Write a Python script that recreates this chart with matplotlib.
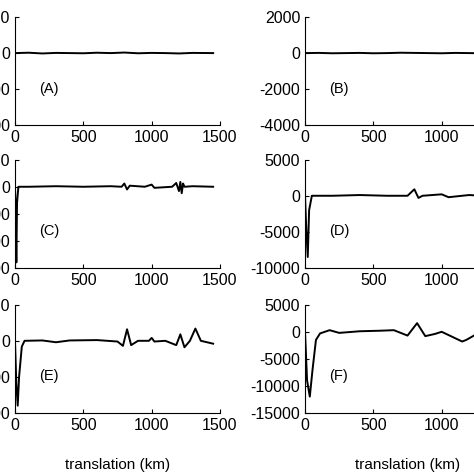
import numpy as np
import matplotlib.pyplot as plt

plt.rcParams['font.family'] = ['Liberation Sans', 'DejaVu Sans']
plt.rcParams['axes.unicode_minus'] = False

# translation (km) and misfit values
x_flat = [0, 100, 200, 300, 400, 500, 600, 700, 800, 900, 1000, 1100, 1200, 1300, 1450]
a_vals = [0, 20, -20, 10, 0, -10, 20, 0, 30, -10, 10, 0, -20, 10, 0]
b_vals = [0, 10, -10, 0, 10, -10, 0, 20, 10, 0, -10, 10, 0, -10, 0]

x_c = [0, 5, 10, 15, 25, 100, 300, 500, 700, 780, 800, 820, 840, 950, 1000, 1020, 1150, 1180, 1200, 1210, 1220, 1230, 1240, 1300, 1450]
c_vals = [0, -4000, -14000, -3000, 0, 0, 100, 0, 100, 0, 600, -500, 200, 0, 400, -200, 0, 700, -800, 900, -1200, 600, 0, 100, 0]

x_d = [0, 10, 20, 30, 50, 200, 400, 600, 750, 800, 830, 860, 1000, 1050, 1200, 1300, 1400, 1500]
d_vals = [0, -5000, -8500, -2000, 0, 0, 100, 0, 0, 900, -300, 0, 200, -200, 100, 0, -100, 0]

x_e = [0, 10, 20, 30, 50, 70, 200, 300, 400, 600, 750, 790, 820, 850, 900, 980, 1000, 1020, 1100, 1180, 1210, 1240, 1280, 1320, 1360, 1450]
e_vals = [0, -6000, -9000, -5000, -800, 0, 50, -200, 50, 100, -100, -700, 1600, -600, 0, 0, 400, -100, 0, -600, 900, -900, 0, 1700, 0, -400]

x_f = [0, 15, 35, 55, 80, 110, 180, 250, 400, 550, 650, 750, 820, 880, 950, 1000, 1050, 1150, 1180, 1250, 1500]
f_vals = [0, -9000, -12000, -7000, -1500, -300, 300, -200, 100, 200, 300, -700, 1600, -800, -400, 0, -600, -1800, -1500, -500, 0]

panels = [
    ('(A)', x_flat, a_vals, (-4000, 2000), [-4000, -2000, 0, 2000], (0.0316, 0.736)),
    ('(B)', x_flat, b_vals, (-4000, 2000), [-4000, -2000, 0, 2000], (0.6435, 0.736)),
    ('(C)', x_c, c_vals, (-15000, 5000), [-15000, -10000, -5000, 0, 5000], (0.0316, 0.435)),
    ('(D)', x_d, d_vals, (-10000, 5000), [-10000, -5000, 0, 5000], (0.6435, 0.435)),
    ('(E)', x_e, e_vals, (-10000, 5000), [-10000, -5000, 0, 5000], (0.0316, 0.129)),
    ('(F)', x_f, f_vals, (-15000, 5000), [-15000, -10000, -5000, 0, 5000], (0.6435, 0.129)),
]

fig = plt.figure(figsize=(4.74, 4.74), dpi=100)
for label, xs, ys, ylim, yticks, (x0, y0) in panels:
    ax = fig.add_axes([x0, y0, 0.4325, 0.228])
    ax.plot(xs, ys, color='black', lw=1.4)
    ax.set_xlim(0, 1500)
    ax.set_ylim(*ylim)
    ax.set_xticks([0, 500, 1000, 1500])
    ax.set_yticks(yticks)
    ax.tick_params(direction='in', labelsize=11.5, length=3)
    ax.spines['top'].set_visible(False)
    ax.spines['right'].set_visible(False)
    ax.text(0.12, 0.3, label, transform=ax.transAxes, fontsize=10.5)
    if label in ('(E)', '(F)'):
        ax.set_xlabel('translation (km)', fontsize=11, labelpad=18)

fig.savefig('out.png', dpi=100)
